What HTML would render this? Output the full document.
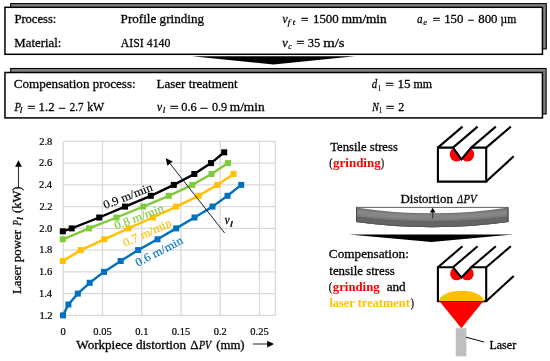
<!DOCTYPE html>
<html><head><meta charset="utf-8">
<style>
html,body{margin:0;padding:0;background:#fff;}
body{width:550px;height:361px;overflow:hidden;}
svg{display:block;}
text{font-family:"Liberation Serif",serif;}
</style></head>
<body>
<svg width="550" height="361" viewBox="0 0 550 361">
<defs>
<marker id="ah" viewBox="0 0 10 10" refX="9" refY="5" markerWidth="7" markerHeight="7" orient="auto-start-reverse" markerUnits="userSpaceOnUse"><path d="M0,0 L10,5 L0,10 z" fill="#000"/></marker>
</defs>
<!-- box 1 -->
<rect x="10.7" y="3.6" width="535.6" height="45.3" fill="#808080" stroke="#000" stroke-width="1.1"/>
<rect x="4.95" y="7.3" width="537.5" height="47" fill="#fff" stroke="#000" stroke-width="1.5"/>
<!-- wedge 1 -->
<polygon points="192,56.3 355,56.3 273.5,64.6" fill="#000"/>
<!-- box 2 -->
<rect x="10.7" y="68.5" width="535.4" height="45.5" fill="#808080" stroke="#000" stroke-width="1.1"/>
<rect x="4.95" y="72.5" width="537.5" height="45.4" fill="#fff" stroke="#000" stroke-width="1.5"/>
<!-- chart grid -->
<g stroke="#d9d9d9" stroke-width="1.3">
<line x1="63.2" y1="141.40" x2="275.4" y2="141.40"/>
<line x1="63.2" y1="163.15" x2="275.4" y2="163.15"/>
<line x1="63.2" y1="184.90" x2="275.4" y2="184.90"/>
<line x1="63.2" y1="206.65" x2="275.4" y2="206.65"/>
<line x1="63.2" y1="228.40" x2="275.4" y2="228.40"/>
<line x1="63.2" y1="250.15" x2="275.4" y2="250.15"/>
<line x1="63.2" y1="271.90" x2="275.4" y2="271.90"/>
<line x1="63.2" y1="293.65" x2="275.4" y2="293.65"/>
<line x1="63.2" y1="315.40" x2="275.4" y2="315.40"/>
<line x1="63.20" y1="141.4" x2="63.20" y2="315.4"/>
<line x1="102.45" y1="141.4" x2="102.45" y2="315.4"/>
<line x1="141.70" y1="141.4" x2="141.70" y2="315.4"/>
<line x1="180.95" y1="141.4" x2="180.95" y2="315.4"/>
<line x1="220.20" y1="141.4" x2="220.20" y2="315.4"/>
<line x1="259.45" y1="141.4" x2="259.45" y2="315.4"/>
<line x1="275.4" y1="141.4" x2="275.4" y2="315.4"/>
</g>
<path d="M62.8,231.3 L71.7,228.4 L99.2,217.5 L125.0,206.6 L150.8,195.8 L173.8,184.9 L194.3,174.0 L211.0,163.1 L224.2,152.3" stroke="#000000" stroke-width="2.4" fill="none" stroke-linejoin="round"/>
<rect x="59.8" y="228.3" width="6.0" height="6.0" fill="#000000"/>
<rect x="68.7" y="225.4" width="6.0" height="6.0" fill="#000000"/>
<rect x="96.2" y="214.5" width="6.0" height="6.0" fill="#000000"/>
<rect x="122.0" y="203.6" width="6.0" height="6.0" fill="#000000"/>
<rect x="147.8" y="192.8" width="6.0" height="6.0" fill="#000000"/>
<rect x="170.8" y="181.9" width="6.0" height="6.0" fill="#000000"/>
<rect x="191.3" y="171.0" width="6.0" height="6.0" fill="#000000"/>
<rect x="208.0" y="160.1" width="6.0" height="6.0" fill="#000000"/>
<rect x="221.2" y="149.3" width="6.0" height="6.0" fill="#000000"/>
<path d="M62.8,239.3 L89.0,228.4 L116.5,217.5 L143.2,206.6 L168.8,195.8 L192.3,184.9 L211.5,174.0 L228.0,163.1" stroke="#7dcb3a" stroke-width="2.4" fill="none" stroke-linejoin="round"/>
<rect x="59.8" y="236.3" width="6.0" height="6.0" fill="#7dcb3a"/>
<rect x="86.0" y="225.4" width="6.0" height="6.0" fill="#7dcb3a"/>
<rect x="113.5" y="214.5" width="6.0" height="6.0" fill="#7dcb3a"/>
<rect x="140.2" y="203.6" width="6.0" height="6.0" fill="#7dcb3a"/>
<rect x="165.8" y="192.8" width="6.0" height="6.0" fill="#7dcb3a"/>
<rect x="189.3" y="181.9" width="6.0" height="6.0" fill="#7dcb3a"/>
<rect x="208.5" y="171.0" width="6.0" height="6.0" fill="#7dcb3a"/>
<rect x="225.0" y="160.1" width="6.0" height="6.0" fill="#7dcb3a"/>
<path d="M62.8,261.0 L80.8,250.1 L104.3,239.3 L128.4,228.4 L153.0,217.5 L176.2,206.6 L198.5,195.8 L217.3,184.9 L233.5,174.0" stroke="#ffc000" stroke-width="2.4" fill="none" stroke-linejoin="round"/>
<rect x="59.8" y="258.0" width="6.0" height="6.0" fill="#ffc000"/>
<rect x="77.8" y="247.1" width="6.0" height="6.0" fill="#ffc000"/>
<rect x="101.3" y="236.3" width="6.0" height="6.0" fill="#ffc000"/>
<rect x="125.4" y="225.4" width="6.0" height="6.0" fill="#ffc000"/>
<rect x="150.0" y="214.5" width="6.0" height="6.0" fill="#ffc000"/>
<rect x="173.2" y="203.6" width="6.0" height="6.0" fill="#ffc000"/>
<rect x="195.5" y="192.8" width="6.0" height="6.0" fill="#ffc000"/>
<rect x="214.3" y="181.9" width="6.0" height="6.0" fill="#ffc000"/>
<rect x="230.5" y="171.0" width="6.0" height="6.0" fill="#ffc000"/>
<path d="M63.0,315.4 L68.4,304.5 L77.8,293.6 L89.7,282.8 L104.0,271.9 L120.7,261.0 L138.1,250.1 L157.5,239.3 L176.2,228.4 L194.5,217.5 L212.5,206.6 L227.5,195.8 L241.2,184.9" stroke="#0070c0" stroke-width="2.4" fill="none" stroke-linejoin="round"/>
<rect x="60.0" y="312.4" width="6.0" height="6.0" fill="#0070c0"/>
<rect x="65.4" y="301.5" width="6.0" height="6.0" fill="#0070c0"/>
<rect x="74.8" y="290.6" width="6.0" height="6.0" fill="#0070c0"/>
<rect x="86.7" y="279.8" width="6.0" height="6.0" fill="#0070c0"/>
<rect x="101.0" y="268.9" width="6.0" height="6.0" fill="#0070c0"/>
<rect x="117.7" y="258.0" width="6.0" height="6.0" fill="#0070c0"/>
<rect x="135.1" y="247.1" width="6.0" height="6.0" fill="#0070c0"/>
<rect x="154.5" y="236.3" width="6.0" height="6.0" fill="#0070c0"/>
<rect x="173.2" y="225.4" width="6.0" height="6.0" fill="#0070c0"/>
<rect x="191.5" y="214.5" width="6.0" height="6.0" fill="#0070c0"/>
<rect x="209.5" y="203.6" width="6.0" height="6.0" fill="#0070c0"/>
<rect x="224.5" y="192.8" width="6.0" height="6.0" fill="#0070c0"/>
<rect x="238.2" y="181.9" width="6.0" height="6.0" fill="#0070c0"/>
<text x="0" y="0" transform="translate(105.0,209.1) rotate(-21.39)" fill="#000" stroke="#000" stroke-width="0.12" font-size="11.8" textLength="52.1" lengthAdjust="spacingAndGlyphs">0.9 m/min</text>
<text x="0" y="0" transform="translate(116.1,229.7) rotate(-20.88)" fill="#7dcb3a" stroke="#7dcb3a" stroke-width="0.12" font-size="11.8" textLength="51.9" lengthAdjust="spacingAndGlyphs">0.8 m/min</text>
<text x="0" y="0" transform="translate(125.1,247.0) rotate(-24.20)" fill="#ffc000" stroke="#ffc000" stroke-width="0.12" font-size="11.8" textLength="52.0" lengthAdjust="spacingAndGlyphs">0.7 m/min</text>
<text x="0" y="0" transform="translate(137.8,266.7) rotate(-27.36)" fill="#0070c0" stroke="#0070c0" stroke-width="0.12" font-size="11.8" textLength="51.8" lengthAdjust="spacingAndGlyphs">0.6 m/min</text>
<!-- v_l arrow -->
<line x1="224.6" y1="233" x2="166.2" y2="158.7" stroke="#111" stroke-width="0.95" marker-end="url(#ah)"/>
<text x="224.74" y="223.8" font-size="12.4" textLength="4.84" lengthAdjust="spacingAndGlyphs" font-style="italic" fill="#000" stroke="#000" stroke-width="0.26">v</text>
<text x="229.58" y="226.6" font-size="8.8" textLength="3.70" lengthAdjust="spacingAndGlyphs" font-style="italic" fill="#000" stroke="#000" stroke-width="0.156">l</text>
<line x1="252.9" y1="344" x2="268" y2="344" stroke="#333" stroke-width="1.1"/><polygon points="267.2,340.7 274.1,344.1 267.2,347.5" fill="#000"/>
<line x1="18.5" y1="187.3" x2="18.5" y2="166" stroke="#333" stroke-width="1.1"/><polygon points="15.1,166.8 18.5,160.2 21.9,166.8" fill="#000"/>
<clipPath id="cp147"><polygon points="437.9,147.6 453.0,147.6 461.4,159.29999999999998 471.2,147.6 486.2,147.6 486.2,181.6 437.9,181.6"/></clipPath>
<g clip-path="url(#cp147)" fill="#ff0000"><circle cx="456.6" cy="154.5" r="6.9"/><circle cx="467.3" cy="154.5" r="6.9"/></g>
<g stroke="#000" stroke-width="2.1" fill="none" stroke-linejoin="miter">
<path d="M437.9,147.6 L453.0,147.6 L461.4,159.29999999999998 L471.2,147.6 L486.2,147.6 L486.2,181.6 L437.9,181.6 Z"/>
<line x1="437.9" y1="147.6" x2="462.5" y2="126.6"/>
<line x1="453.0" y1="147.6" x2="477.6" y2="126.6"/>
<line x1="471.2" y1="147.6" x2="495.8" y2="126.6"/>
<line x1="486.2" y1="147.6" x2="510.8" y2="126.6"/>
<line x1="486.2" y1="181.6" x2="513.7" y2="156.3"/>
</g>
<!-- distortion bar -->
<path d="M356,207.4 Q432.2,219.20 508.4,207.4 L508.4,222.0 Q432.2,232.40 356,222.0 Z" fill="#6e6e6e"/>
<path d="M356,208.4 Q432.2,219.60 508.4,208.4 L508.4,216.8 Q432.2,226.40 356,216.8 Z" fill="#7a7a7a"/>
<path d="M356,210.0 Q432.2,219.20 508.4,210.0 L508.4,214.8 Q432.2,223.60 356,214.8 Z" fill="#868686"/>
<path d="M356,216.8 Q432.2,226.40 508.4,216.8 L508.4,217.6 Q432.2,227.20 356,217.6 Z" fill="#5a5a5a"/>
<path d="M356,217.6 Q432.2,227.20 508.4,217.6 L508.4,222.0 Q432.2,232.40 356,222.0 Z" fill="#666666"/>
<path d="M356,221.0 Q432.2,231.40 508.4,221.0 L508.4,222.0 Q432.2,232.40 356,222.0 Z" fill="#585858"/>
<path d="M356.5,207.4 L356.5,222 M507.9,207.4 L507.9,222" stroke="#4a4a4a" stroke-width="1"/>
<line x1="356" y1="207.4" x2="508.4" y2="207.4" stroke="#444" stroke-width="0.85"/>
<line x1="432.7" y1="212" x2="432.7" y2="218.2" stroke="#3a3a3a" stroke-width="1.2"/>
<polygon points="432.7,207.8 435.5,212.6 429.9,212.6" fill="#000"/>
<!-- wedge 2 -->
<polygon points="349,234.5 513.6,234.5 431.5,242" fill="#000"/>
<clipPath id="cp267"><polygon points="437.9,267.3 453.0,267.3 461.4,277.40000000000003 471.2,267.3 486.2,267.3 486.2,301.3 437.9,301.3"/></clipPath>
<g clip-path="url(#cp267)" fill="#ff0000"><circle cx="456.6" cy="273.8" r="6.5"/><circle cx="467.3" cy="273.8" r="6.5"/></g>
<g stroke="#000" stroke-width="2.1" fill="none" stroke-linejoin="miter">
<path d="M437.9,267.3 L453.0,267.3 L461.4,277.40000000000003 L471.2,267.3 L486.2,267.3 L486.2,301.3 L437.9,301.3 Z"/>
<line x1="437.9" y1="267.3" x2="462.5" y2="246.3"/>
<line x1="453.0" y1="267.3" x2="477.6" y2="246.3"/>
<line x1="471.2" y1="267.3" x2="495.8" y2="246.3"/>
<line x1="486.2" y1="267.3" x2="510.8" y2="246.3"/>
<line x1="486.2" y1="301.3" x2="513.7" y2="276.0"/>
</g>
<path d="M439,301.3 A22.5,10.5 0 0 1 484,301.3 Z" fill="#ffc000"/>
<polygon points="440.1,302 482.7,302 461.4,328.2" fill="#ff0000"/>
<rect x="455.8" y="328.2" width="10.6" height="28.1" fill="#bfbfbf"/>
<line x1="465.9" y1="337.2" x2="484" y2="342" stroke="#000" stroke-width="1"/>
<text x="14.40" y="22.9" font-size="11.75" textLength="41.93" lengthAdjust="spacingAndGlyphs" fill="#000" stroke="#000" stroke-width="0.26">Process:</text>
<text x="14.39" y="46.7" font-size="11.75" textLength="46.95" lengthAdjust="spacingAndGlyphs" fill="#000" stroke="#000" stroke-width="0.26">Material:</text>
<text x="120.59" y="22.9" font-size="11.75" textLength="83.49" lengthAdjust="spacingAndGlyphs" fill="#000" stroke="#000" stroke-width="0.26">Profile grinding</text>
<text x="120.85" y="46.7" font-size="11.75" textLength="49.55" lengthAdjust="spacingAndGlyphs" fill="#000" stroke="#000" stroke-width="0.26">AISI 4140</text>
<text x="282.53" y="22.9" font-size="12.6" textLength="5.14" lengthAdjust="spacingAndGlyphs" font-style="italic" fill="#000" stroke="#000" stroke-width="0.26">v</text>
<text x="287.44" y="25.299999999999997" font-size="9.0" textLength="2.99" lengthAdjust="spacingAndGlyphs" font-style="italic" fill="#000" stroke="#000" stroke-width="0.156">f</text>
<text x="292.63" y="25.299999999999997" font-size="9.0" textLength="2.89" lengthAdjust="spacingAndGlyphs" font-style="italic" fill="#000" stroke="#000" stroke-width="0.156">t</text>
<text x="301.12" y="23.7" font-size="11.75" textLength="7.52" lengthAdjust="spacingAndGlyphs" fill="#000" stroke="#000" stroke-width="0.26">=</text>
<text x="312.91" y="22.9" font-size="12.0" textLength="25.93" lengthAdjust="spacingAndGlyphs" fill="#000" stroke="#000" stroke-width="0.26">1500</text>
<text x="341.79" y="22.9" font-size="12.0" textLength="44.90" lengthAdjust="spacingAndGlyphs" fill="#000" stroke="#000" stroke-width="0.338">mm/min</text>
<text x="282.32" y="46.6" font-size="12.6" textLength="5.55" lengthAdjust="spacingAndGlyphs" font-style="italic" fill="#000" stroke="#000" stroke-width="0.26">v</text>
<text x="288.32" y="49.0" font-size="9.0" textLength="3.46" lengthAdjust="spacingAndGlyphs" font-style="italic" fill="#000" stroke="#000" stroke-width="0.156">c</text>
<text x="296.27" y="47.4" font-size="11.75" textLength="8.22" lengthAdjust="spacingAndGlyphs" fill="#000" stroke="#000" stroke-width="0.26">=</text>
<text x="307.65" y="46.6" font-size="12.0" textLength="12.47" lengthAdjust="spacingAndGlyphs" fill="#000" stroke="#000" stroke-width="0.26">35</text>
<text x="323.15" y="46.6" font-size="12.0" textLength="21.43" lengthAdjust="spacingAndGlyphs" fill="#000" stroke="#000" stroke-width="0.26">m/s</text>
<text x="416.93" y="22.9" font-size="12.6" textLength="5.56" lengthAdjust="spacingAndGlyphs" font-style="italic" fill="#000" stroke="#000" stroke-width="0.26">a</text>
<text x="423.29" y="25.299999999999997" font-size="9.0" textLength="3.88" lengthAdjust="spacingAndGlyphs" font-style="italic" fill="#000" stroke="#000" stroke-width="0.156">e</text>
<text x="432.49" y="23.7" font-size="11.75" textLength="7.87" lengthAdjust="spacingAndGlyphs" fill="#000" stroke="#000" stroke-width="0.26">=</text>
<text x="444.23" y="22.9" font-size="12.0" textLength="19.21" lengthAdjust="spacingAndGlyphs" fill="#000" stroke="#000" stroke-width="0.26">150</text>
<text x="467.79" y="23.7" font-size="11.75" textLength="6.46" lengthAdjust="spacingAndGlyphs" fill="#000" stroke="#000" stroke-width="0.26">−</text>
<text x="478.26" y="22.9" font-size="12.0" textLength="19.27" lengthAdjust="spacingAndGlyphs" fill="#000" stroke="#000" stroke-width="0.26">800</text>
<text x="500.60" y="22.9" font-size="12.0" textLength="15.74" lengthAdjust="spacingAndGlyphs" fill="#000" stroke="#000" stroke-width="0.26">µm</text>
<text x="13.73" y="88.2" font-size="11.75" textLength="121.94" lengthAdjust="spacingAndGlyphs" fill="#000" stroke="#000" stroke-width="0.26">Compensation process:</text>
<text x="156.59" y="88.1" font-size="11.75" textLength="81.13" lengthAdjust="spacingAndGlyphs" fill="#000" stroke="#000" stroke-width="0.26">Laser treatment</text>
<text x="371.82" y="88.1" font-size="12.6" textLength="5.42" lengthAdjust="spacingAndGlyphs" font-style="italic" fill="#000" stroke="#000" stroke-width="0.26">d</text>
<text x="378.39" y="90.5" font-size="9.0" textLength="2.20" lengthAdjust="spacingAndGlyphs" fill="#000" stroke="#000" stroke-width="0.156">l</text>
<text x="385.23" y="88.89999999999999" font-size="11.75" textLength="8.69" lengthAdjust="spacingAndGlyphs" fill="#000" stroke="#000" stroke-width="0.26">=</text>
<text x="397.40" y="88.1" font-size="12.0" textLength="13.15" lengthAdjust="spacingAndGlyphs" fill="#000" stroke="#000" stroke-width="0.26">15</text>
<text x="413.51" y="88.1" font-size="12.0" textLength="18.53" lengthAdjust="spacingAndGlyphs" fill="#000" stroke="#000" stroke-width="0.26">mm</text>
<text x="14.46" y="110.8" font-size="12.6" textLength="6.52" lengthAdjust="spacingAndGlyphs" font-style="italic" fill="#000" stroke="#000" stroke-width="0.26">P</text>
<text x="19.50" y="113.2" font-size="9.0" textLength="3.04" lengthAdjust="spacingAndGlyphs" font-style="italic" fill="#000" stroke="#000" stroke-width="0.156">l</text>
<text x="27.28" y="111.6" font-size="11.75" textLength="8.11" lengthAdjust="spacingAndGlyphs" fill="#000" stroke="#000" stroke-width="0.26">=</text>
<text x="38.62" y="110.8" font-size="12.0" textLength="16.07" lengthAdjust="spacingAndGlyphs" fill="#000" stroke="#000" stroke-width="0.26">1.2</text>
<text x="58.21" y="111.6" font-size="11.75" textLength="7.64" lengthAdjust="spacingAndGlyphs" fill="#000" stroke="#000" stroke-width="0.26">−</text>
<text x="69.81" y="110.8" font-size="12.0" textLength="13.66" lengthAdjust="spacingAndGlyphs" fill="#000" stroke="#000" stroke-width="0.26">2.7</text>
<text x="87.13" y="110.8" font-size="12.0" textLength="17.05" lengthAdjust="spacingAndGlyphs" fill="#000" stroke="#000" stroke-width="0.26">kW</text>
<text x="156.94" y="110.8" font-size="12.6" textLength="5.04" lengthAdjust="spacingAndGlyphs" font-style="italic" fill="#000" stroke="#000" stroke-width="0.26">v</text>
<text x="162.43" y="113.2" font-size="9.0" textLength="2.91" lengthAdjust="spacingAndGlyphs" font-style="italic" fill="#000" stroke="#000" stroke-width="0.156">l</text>
<text x="169.72" y="111.6" font-size="11.75" textLength="8.93" lengthAdjust="spacingAndGlyphs" fill="#000" stroke="#000" stroke-width="0.26">=</text>
<text x="181.28" y="110.8" font-size="12.0" textLength="15.42" lengthAdjust="spacingAndGlyphs" fill="#000" stroke="#000" stroke-width="0.26">0.6</text>
<text x="199.66" y="111.6" font-size="11.75" textLength="8.34" lengthAdjust="spacingAndGlyphs" fill="#000" stroke="#000" stroke-width="0.26">−</text>
<text x="211.99" y="110.8" font-size="12.0" textLength="15.15" lengthAdjust="spacingAndGlyphs" fill="#000" stroke="#000" stroke-width="0.26">0.9</text>
<text x="229.78" y="110.8" font-size="12.0" textLength="34.80" lengthAdjust="spacingAndGlyphs" fill="#000" stroke="#000" stroke-width="0.26">m/min</text>
<text x="372.25" y="110.8" font-size="12.6" textLength="6.58" lengthAdjust="spacingAndGlyphs" font-style="italic" fill="#000" stroke="#000" stroke-width="0.26">N</text>
<text x="379.39" y="113.2" font-size="9.0" textLength="2.20" lengthAdjust="spacingAndGlyphs" fill="#000" stroke="#000" stroke-width="0.156">l</text>
<text x="385.74" y="111.6" font-size="11.75" textLength="8.58" lengthAdjust="spacingAndGlyphs" fill="#000" stroke="#000" stroke-width="0.26">=</text>
<text x="398.27" y="110.8" font-size="12.0" textLength="5.98" lengthAdjust="spacingAndGlyphs" fill="#000" stroke="#000" stroke-width="0.26">2</text>
<text x="330.22" y="150.8" font-size="11.75" textLength="67.60" lengthAdjust="spacingAndGlyphs" fill="#000" stroke="#000" stroke-width="0.26">Tensile stress</text>
<text x="329.25" y="166.8" font-size="11.75" textLength="3.33" lengthAdjust="spacingAndGlyphs" fill="#000" stroke="#000" stroke-width="0.26">(</text>
<text x="332.99" y="166.8" font-size="11.75" textLength="47.76" lengthAdjust="spacingAndGlyphs" font-weight="bold" fill="#ff0000">grinding</text>
<text x="380.97" y="166.8" font-size="11.75" textLength="3.07" lengthAdjust="spacingAndGlyphs" fill="#000" stroke="#000" stroke-width="0.26">)</text>
<text x="328.82" y="258.4" font-size="11.75" textLength="80.06" lengthAdjust="spacingAndGlyphs" fill="#000" stroke="#000" stroke-width="0.26">Compensation:</text>
<text x="329.35" y="274.8" font-size="11.75" textLength="65.38" lengthAdjust="spacingAndGlyphs" fill="#000" stroke="#000" stroke-width="0.26">tensile stress</text>
<text x="328.65" y="291.2" font-size="11.75" textLength="3.33" lengthAdjust="spacingAndGlyphs" fill="#000" stroke="#000" stroke-width="0.26">(</text>
<text x="332.79" y="291.2" font-size="11.75" textLength="46.86" lengthAdjust="spacingAndGlyphs" font-weight="bold" fill="#ff0000">grinding</text>
<text x="386.65" y="291.2" font-size="11.75" textLength="19.03" lengthAdjust="spacingAndGlyphs" fill="#000" stroke="#000" stroke-width="0.26">and</text>
<text x="329.43" y="306.8" font-size="11.75" textLength="80.36" lengthAdjust="spacingAndGlyphs" font-weight="bold" fill="#ffc000">laser treatment</text>
<text x="410.86" y="306.8" font-size="11.75" textLength="3.20" lengthAdjust="spacingAndGlyphs" fill="#000" stroke="#000" stroke-width="0.26">)</text>
<text x="400.49" y="202.8" font-size="11.75" textLength="52.39" lengthAdjust="spacingAndGlyphs" fill="#000" stroke="#000" stroke-width="0.26">Distortion</text>
<text x="457.34" y="202.8" font-size="11.75" textLength="5.77" lengthAdjust="spacingAndGlyphs" font-style="italic" fill="#000" stroke="#000" stroke-width="0.26">Δ</text>
<text x="463.56" y="202.8" font-size="11.75" textLength="13.13" lengthAdjust="spacingAndGlyphs" font-style="italic" fill="#000" stroke="#000" stroke-width="0.26">PV</text>
<text x="489.41" y="348.7" font-size="11.75" textLength="26.78" lengthAdjust="spacingAndGlyphs" fill="#000" stroke="#000" stroke-width="0.26">Laser</text>
<text x="76.35" y="349.1" font-size="11.5" textLength="109.73" lengthAdjust="spacingAndGlyphs" fill="#000" stroke="#000" stroke-width="0.26">Workpiece distortion</text>
<text x="190.16" y="349.1" font-size="11.5" textLength="8.32" lengthAdjust="spacingAndGlyphs" fill="#000" stroke="#000" stroke-width="0.26">Δ</text>
<text x="198.95" y="349.1" font-size="11.5" textLength="12.21" lengthAdjust="spacingAndGlyphs" font-style="italic" fill="#000" stroke="#000" stroke-width="0.26">PV</text>
<text x="216.24" y="349.1" font-size="11.5" textLength="28.36" lengthAdjust="spacingAndGlyphs" fill="#000" stroke="#000" stroke-width="0.26">(mm)</text>
<g transform="translate(20.9,0) rotate(-90)"><text x="-294.11" y="0" font-size="11.5" textLength="64.10" lengthAdjust="spacingAndGlyphs" fill="#000" stroke="#000" stroke-width="0.26">Laser power</text>
<text x="-225.56" y="0" font-size="11.5" textLength="5.50" lengthAdjust="spacingAndGlyphs" font-style="italic" fill="#000" stroke="#000" stroke-width="0.26">P</text>
<text x="-220.25" y="2.4" font-size="9.0" textLength="3.31" lengthAdjust="spacingAndGlyphs" font-style="italic" fill="#000" stroke="#000" stroke-width="0.26">l</text>
<text x="-213.05" y="0" font-size="11.5" textLength="26.54" lengthAdjust="spacingAndGlyphs" fill="#000" stroke="#000" stroke-width="0.26">(kW)</text></g>
<text x="39.19" y="144.5" font-size="10.5" stroke="#000" stroke-width="0.21">2.8</text>
<text x="39.09" y="166.2" font-size="10.5" stroke="#000" stroke-width="0.21">2.6</text>
<text x="38.98" y="188.0" font-size="10.5" stroke="#000" stroke-width="0.21">2.4</text>
<text x="39.40" y="209.8" font-size="10.5" stroke="#000" stroke-width="0.21">2.2</text>
<text x="39.19" y="231.5" font-size="10.5" stroke="#000" stroke-width="0.21">2.0</text>
<text x="39.19" y="253.2" font-size="10.5" stroke="#000" stroke-width="0.21">1.8</text>
<text x="39.09" y="275.0" font-size="10.5" stroke="#000" stroke-width="0.21">1.6</text>
<text x="38.98" y="296.8" font-size="10.5" stroke="#000" stroke-width="0.21">1.4</text>
<text x="39.40" y="318.5" font-size="10.5" stroke="#000" stroke-width="0.21">1.2</text>
<text x="60.58" y="334.5" font-size="10.5" stroke="#000" stroke-width="0.21">0</text>
<text x="93.26" y="334.5" font-size="10.5" stroke="#000" stroke-width="0.21">0.05</text>
<text x="135.29" y="334.5" font-size="10.5" stroke="#000" stroke-width="0.21">0.1</text>
<text x="171.76" y="334.5" font-size="10.5" stroke="#000" stroke-width="0.21">0.15</text>
<text x="213.74" y="334.5" font-size="10.5" stroke="#000" stroke-width="0.21">0.2</text>
<text x="250.26" y="334.5" font-size="10.5" stroke="#000" stroke-width="0.21">0.25</text>
</svg>
</body></html>
